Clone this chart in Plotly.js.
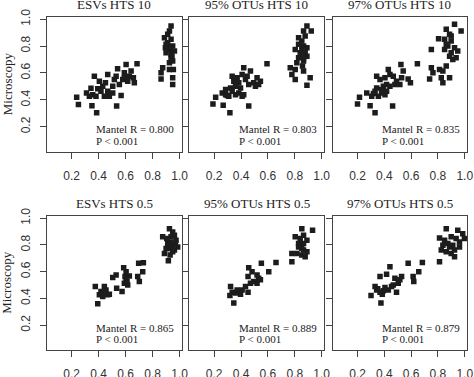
<!DOCTYPE html>
<html><head><meta charset="utf-8">
<script src="https://cdn.plot.ly/plotly-3.0.1.min.js"></script>
<style>html,body{margin:0;padding:0;background:#fff}</style>
</head><body><div id="chart" style="width:474px;height:377px"></div>
<script>
const panelTitles = ["ESVs HTS 10", "95% OTUs HTS 10", "97% OTUs HTS 10", "ESVs HTS 0.5", "95% OTUs HTS 0.5", "97% OTUs HTS 0.5"];
const mantelR = ["0.800", "0.803", "0.835", "0.865", "0.889", "0.879"];
const pText = ["P < 0.001", "P < 0.001", "P < 0.001", "P < 0.001", "P < 0.001", "P < 0.001"];
const yLabel = "Microscopy";
const tickVals = [0.2, 0.4, 0.6, 0.8, 1.0];
const tickLabels = ["0.2", "0.4", "0.6", "0.8", "1.0"];

const esv10X = [0.237,0.25,0.35,0.385,0.533,0.31,0.343,0.368,0.405,0.467,0.54,0.603,0.684,0.59,0.627,0.664,0.657,0.566,0.504,0.479,0.442,0.417,0.38,0.356,0.331,0.43,0.45,0.516,0.553,0.615,0.578,0.504,0.393,0.467,0.529,0.64,0.59,
  0.936,0.924,0.911,0.887,0.936,0.899,0.948,0.924,0.961,0.936,0.899,0.936,0.948,0.924,0.874,0.924,0.862,0.948,0.862,0.948,0.911,0.929,0.943,0.894,0.953];
const esv10Y = [0.42,0.365,0.357,0.305,0.355,0.452,0.487,0.576,0.539,0.589,0.631,0.663,0.668,0.601,0.576,0.527,0.564,0.432,0.502,0.427,0.427,0.464,0.427,0.439,0.427,0.502,0.527,0.551,0.514,0.539,0.551,0.452,0.482,0.464,0.576,0.614,0.564,
  0.949,0.912,0.887,0.862,0.85,0.813,0.8,0.775,0.763,0.738,0.75,0.713,0.688,0.676,0.638,0.626,0.601,0.564,0.556,0.514,0.825,0.788,0.725,0.788,0.626];

const otu95h10X = [0.191,0.211,0.267,0.317,0.457,0.26,0.297,0.285,0.322,0.346,0.334,0.371,0.42,0.408,0.383,0.359,0.396,0.433,0.445,0.457,0.494,0.519,0.544,0.507,0.531,0.593,0.309,0.359,0.383,0.42,0.334,0.408,0.47,0.285,
  0.89,0.865,0.922,0.828,0.877,0.852,0.803,0.865,0.89,0.84,0.877,0.828,0.865,0.89,0.815,0.865,0.766,0.803,0.857,0.778,0.865,0.803,0.914,0.89,0.828,0.852];
const otu95h10Y = [0.37,0.42,0.36,0.305,0.355,0.452,0.432,0.477,0.489,0.539,0.576,0.564,0.639,0.589,0.527,0.502,0.489,0.551,0.576,0.514,0.527,0.564,0.539,0.502,0.514,0.668,0.427,0.439,0.452,0.439,0.464,0.427,0.614,0.439,
  0.949,0.912,0.912,0.862,0.875,0.837,0.775,0.8,0.788,0.75,0.75,0.713,0.713,0.725,0.676,0.688,0.639,0.626,0.651,0.589,0.614,0.551,0.564,0.509,0.813,0.775];

const otu97h10X = [0.2,0.215,0.269,0.294,0.331,0.462,0.306,0.331,0.343,0.356,0.38,0.405,0.417,0.343,0.368,0.43,0.442,0.405,0.467,0.491,0.516,0.529,0.541,0.524,0.578,0.595,0.417,0.393,0.442,0.38,0.319,0.479,0.647,
  0.924,0.973,0.862,0.887,0.85,0.805,0.899,0.874,0.924,0.85,0.948,0.899,0.887,0.936,0.911,0.751,0.751,0.812,0.763,0.837,0.862,0.738,0.825,0.887,0.837,0.862,0.899];
const otu97h10Y = [0.37,0.42,0.452,0.357,0.305,0.355,0.427,0.464,0.489,0.427,0.452,0.439,0.464,0.576,0.551,0.626,0.589,0.564,0.576,0.539,0.514,0.564,0.614,0.663,0.556,0.527,0.514,0.502,0.502,0.477,0.447,0.514,0.668,
  0.962,0.912,0.924,0.887,0.85,0.855,0.837,0.8,0.788,0.775,0.763,0.75,0.725,0.713,0.7,0.775,0.639,0.626,0.601,0.614,0.651,0.556,0.564,0.564,0.527,0.813,0.875];

const esv05X = [0.375,0.393,0.405,0.417,0.442,0.454,0.467,0.43,0.479,0.45,0.533,0.573,0.529,0.504,0.585,0.603,0.595,0.627,0.59,0.603,0.615,0.696,0.731,0.689,0.701,0.726,0.61,
  0.924,0.948,0.874,0.904,0.936,0.961,0.911,0.943,0.973,0.887,0.924,0.961,0.929,0.916,0.948,0.899,0.968,0.936,0.985];
const esv05Y = [0.489,0.361,0.427,0.452,0.489,0.464,0.427,0.415,0.432,0.447,0.477,0.452,0.576,0.556,0.63,0.6,0.563,0.568,0.514,0.539,0.501,0.662,0.667,0.563,0.526,0.6,0.526,
  0.921,0.897,0.86,0.847,0.86,0.872,0.81,0.798,0.835,0.736,0.773,0.761,0.724,0.682,0.748,0.773,0.803,0.822,0.785];

const otu95h05X = [0.322,0.334,0.346,0.317,0.359,0.383,0.396,0.408,0.433,0.452,0.47,0.494,0.519,0.457,0.452,0.482,0.519,0.531,0.544,0.551,0.606,0.66,0.778,0.371,
  0.852,0.932,0.803,0.84,0.865,0.89,0.828,0.865,0.852,0.815,0.852,0.877,0.778,0.89,0.828,0.865];
const otu95h05Y = [0.489,0.447,0.366,0.422,0.44,0.452,0.432,0.464,0.489,0.447,0.514,0.526,0.514,0.63,0.563,0.6,0.576,0.551,0.539,0.662,0.6,0.669,0.674,0.464,
  0.921,0.909,0.86,0.847,0.872,0.835,0.81,0.81,0.773,0.736,0.724,0.711,0.736,0.748,0.785,0.761];

const otu97h05X = [0.301,0.375,0.331,0.343,0.368,0.385,0.405,0.43,0.454,0.467,0.491,0.504,0.516,0.529,0.368,0.417,0.442,0.479,0.578,0.615,0.62,0.657,0.684,0.351,0.393,
  0.862,0.948,0.985,0.812,0.85,0.899,0.936,0.874,0.911,0.961,0.998,0.825,0.862,0.899,0.924,0.961,0.812,0.887,0.837,0.924];
const otu97h05Y = [0.422,0.366,0.489,0.464,0.447,0.432,0.482,0.464,0.489,0.501,0.447,0.514,0.539,0.563,0.563,0.58,0.637,0.551,0.662,0.563,0.526,0.6,0.669,0.472,0.457,
  0.921,0.909,0.884,0.852,0.835,0.86,0.847,0.81,0.798,0.822,0.847,0.761,0.748,0.736,0.711,0.785,0.674,0.785,0.798,0.761];

const seriesX = [esv10X, otu95h10X, otu97h10X, esv05X, otu95h05X, otu97h05X];
const seriesY = [esv10Y, otu95h10Y, otu97h10Y, esv05Y, otu95h05Y, otu97h05Y];

// layout geometry (pixels)
const W = 474, H = 377;
const colPx = [[46.7, 182], [189.3, 324], [332.7, 467]];
const rowPx = [[16.7, 151.7], [215.7, 350]];
const titleY = [4.3, 203.7];
const axColor = '#444';
const serif = 'Liberation Serif, Times New Roman, serif';
const sans = 'Liberation Sans, Arial, sans-serif';

const traces = [];
const layout = {
  width: W, height: H, margin: {l: 0, r: 0, t: 0, b: 0},
  paper_bgcolor: '#fff', plot_bgcolor: '#fff', showlegend: false,
  annotations: []
};

for (let i = 0; i < 6; i++) {
  const col = i % 3, row = Math.floor(i / 3);
  const s = i === 0 ? '' : String(i + 1);
  traces.push({
    type: 'scatter', mode: 'markers', x: seriesX[i], y: seriesY[i],
    xaxis: 'x' + s, yaxis: 'y' + s,
    marker: {symbol: 'square', size: 5.5, color: '#1c1c1c'},
    hoverinfo: 'skip'
  });
  const xd = [colPx[col][0] / W, colPx[col][1] / W];
  const yd = [1 - rowPx[row][1] / H, 1 - rowPx[row][0] / H];
  const common = {
    tickvals: tickVals, ticktext: tickLabels, ticks: 'outside', ticklen: 6, tickwidth: 1,
    tickcolor: axColor, showline: true, mirror: true, linecolor: axColor, linewidth: 1,
    showgrid: false, zeroline: false, fixedrange: true,
    tickfont: {family: sans, size: 12, color: '#333'}
  };
  layout['xaxis' + s] = Object.assign({}, common, {
    domain: xd, anchor: 'y' + s, range: [0.015, 1.017], ticklabelstandoff: 7
  });
  layout['yaxis' + s] = Object.assign({}, common, {
    domain: yd, anchor: 'x' + s, range: [0.015, 1.018], tickangle: -90,
    showticklabels: col === 0, ticklabelstandoff: 5
  });
  const cx = (colPx[col][0] + colPx[col][1]) / 2 / W;
  layout.annotations.push({
    text: panelTitles[i], xref: 'paper', yref: 'paper', x: cx, y: 1 - titleY[row] / H,
    xanchor: 'center', yanchor: 'middle', showarrow: false,
    font: {family: serif, size: 13, color: '#222'}
  });
  const textX = colPx[col][0] + 47.5;
  const bottom = rowPx[row][1];
  layout.annotations.push({
    text: 'Mantel R = ' + mantelR[i], xref: 'paper', yref: 'paper',
    x: textX / W, y: 1 - (bottom - 22.5) / H, xanchor: 'left', yanchor: 'middle',
    showarrow: false, font: {family: serif, size: 11, color: '#222'}
  });
  layout.annotations.push({
    text: pText[i], xref: 'paper', yref: 'paper',
    x: textX / W, y: 1 - (bottom - 11) / H, xanchor: 'left', yanchor: 'middle',
    showarrow: false, font: {family: serif, size: 11, color: '#222'}
  });
  if (col === 0) {
    layout.annotations.push({
      text: yLabel, xref: 'paper', yref: 'paper', x: 7 / W,
      y: 1 - (rowPx[row][0] + rowPx[row][1]) / 2 / H,
      xanchor: 'center', yanchor: 'middle', textangle: -90, showarrow: false,
      font: {family: serif, size: 13, color: '#222'}
    });
  }
}

Plotly.newPlot('chart', traces, layout, {displayModeBar: false, staticPlot: true});
</script>
</body></html>
